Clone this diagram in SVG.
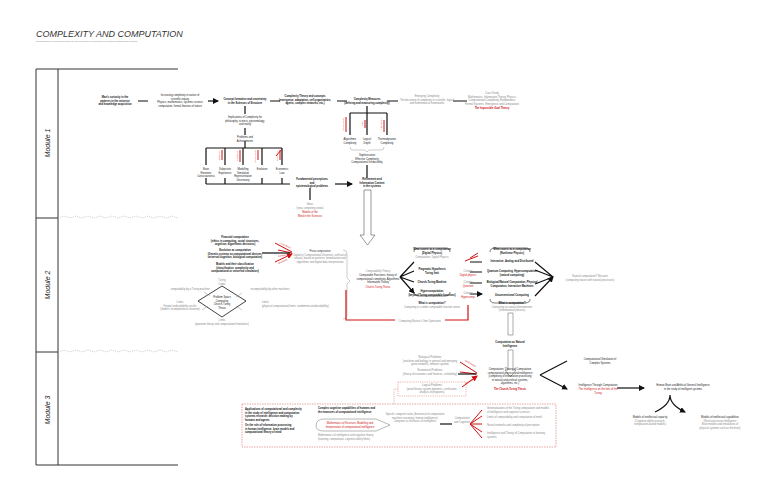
<svg xmlns="http://www.w3.org/2000/svg" width="768" height="485" viewBox="0 0 768 485">
<defs>
<style>
text{font-family:"Liberation Sans",Arial,sans-serif;text-anchor:middle}
.t{font-size:2.6px;fill:#222}
.g{font-size:2.6px;fill:#888}
.r{font-size:2.6px;fill:#d01010}
.b{font-size:2.6px;fill:#111;font-weight:bold}
.ln{stroke:#111;stroke-width:1.2;fill:none}
.rl{stroke:#d01010;stroke-width:1;fill:none}
.gl{stroke:#999;stroke-width:0.5;fill:none}
.kl{stroke:#222;stroke-width:0.6;fill:none}
.mod{font-size:7px;font-style:italic;fill:#222}
</style>
<marker id="ah" markerWidth="6" markerHeight="6" refX="5" refY="3" orient="auto" markerUnits="userSpaceOnUse"><path d="M0,0L6,3L0,6z" fill="#111"/></marker>
<marker id="rh" markerWidth="6" markerHeight="6" refX="5" refY="3" orient="auto" markerUnits="userSpaceOnUse"><path d="M0,0L6,3L0,6z" fill="#d01010"/></marker>
</defs>
<rect width="768" height="485" fill="#fff"/>
<text x="36" y="37" style="font-size:9px;font-style:italic;fill:#333;text-anchor:start">COMPLEXITY AND COMPUTATION</text>
<text x="36" y="42" class="g" style="font-size:2px;text-anchor:start">http://thesisweb.ex.org/sections/complexity-and-computation-an-introduction-to-research-paradigms-and-programs</text>

<g id="frame">
<path d="M36,69H178M36,465H178M36,69V465M58,69V465M36,218H58M36,352H58" stroke="#333" stroke-width="1" fill="none"/>
<path d="M58,218 l6,-2 6,2 6,-2 6,2 6,-2 6,2 6,-2 6,2 6,-2 6,2 6,-2 6,2 6,-2 6,2 6,-2 6,2 6,-2 6,2 6,-2 6,2" stroke="#aaa" stroke-width="0.6" stroke-dasharray="1,1" fill="none"/>
<path d="M58,352 l6,-2 6,2 6,-2 6,2 6,-2 6,2 6,-2 6,2 6,-2 6,2 6,-2 6,2 6,-2 6,2 6,-2 6,2 6,-2 6,2 6,-2 6,2" stroke="#aaa" stroke-width="0.6" stroke-dasharray="1,1" fill="none"/>
<text class="mod" transform="translate(50,143) rotate(-90)">Module 1</text>
<text class="mod" transform="translate(50,285) rotate(-90)">Module 2</text>
<text class="mod" transform="translate(50,410) rotate(-90)">Module 3</text>
</g>

<g id="connectors">
<path class="ln" d="M138,101H148M270,101H280M337,101H347M387,101H398M453,101H467"/>
<path class="ln" d="M208,101H218" marker-end="url(#ah)"/>
<path class="ln" d="M245,106V114M245,128V135M245,141V148M206,148H282M206,148V165M225,148V165M243,148V165M262,148V165M282,148V165"/>
<path class="ln" d="M206,178V184M225,178V184M262,178V184M282,178V184M206,184H290"/>
<path class="ln" d="M310,188V200"/>
<path class="ln" d="M335,184H352" marker-end="url(#ah)"/>
<path class="ln" d="M367,106V113M350,113H387M350,113V135M367,113V135M387,113V135M367,165V178"/>
<path class="gl" d="M350,147q0,3 3,3h12l2,2l2,-2h12q3,0 3,-3"/>
<path d="M364,190h7v45h4l-7.5,10l-7.5,-10h4z" fill="#fff" stroke="#555" stroke-width="0.6"/>
<g class="rl">
<path d="M222,160v-10M240,162v-12M258,160v-10M280,160v-10M276,156l6,-7"/>
<path d="M346,132v-15M365,128v-8M384,132v-12"/>
</g>
<path class="rl" d="M275,243L292,252M278,250L292,253M275,262L292,254" marker-end="url(#rh)"/>
<path class="ln" d="M262,253L290,253" stroke-width="0.8"/>
<path class="gl" d="M343,250q4,0 4,4v24l3,3l-3,3v31q0,4-4,4"/>
<path class="ln" stroke-width="0.6" d="M400,277L414,262M400,277L414,271M400,277L414,282M400,277L414,293" marker-end="url(#ah)"/>
<path class="kl" d="M414,252q0,-4 5,-4h26q5,0 5,4M414,292q0,4 5,4h26q5,0 5,-4M490,252q0,-4 5,-4h30q5,0 5,4M490,299q0,4 5,4h30q5,0 5,-4"/>
<path class="ln" stroke-width="0.6" d="M470,262H482M470,272H482M470,283H482M470,294H482" marker-end="url(#ah)"/>
<path class="rl" d="M465,261L478,256M470,258l8,-5"/>
<path class="ln" stroke-width="0.6" d="M535,262L553,277M535,270L553,277M535,284L553,277M535,296L553,277" marker-end="url(#ah)"/>
<path d="M346,290V320H468V305" stroke="#d01010" stroke-width="1.2" fill="none"/>
<rect x="395" y="318" width="50" height="5" fill="#fff"/>
<path d="M508,313h5v22h-5z" fill="#fff" stroke="#555" stroke-width="0.5"/>
<path d="M508,350h5v20h3l-5.5,7l-5.5,-7h3z" fill="#fff" stroke="#555" stroke-width="0.5"/>
<path d="M198,301l24,-15l24,15l-24,16z" fill="none" stroke="#111" stroke-width="0.8"/>
<path class="gl" d="M210,296l-6,-4M236,297l6,-4M208,306l-6,4M236,306l6,4"/>
<path class="rl" d="M460,362L477,373M460,372L477,374M462,387L477,376" marker-end="url(#rh)"/>
<path class="ln" d="M458,374H476" stroke-width="0.8"/>
<path class="ln" stroke-width="0.6" d="M540,375L567,361M540,375L567,389" marker-end="url(#ah)"/>
<path class="ln" stroke-width="1.5" d="M617,388H644" marker-end="url(#ah)"/>
<path class="ln" stroke-width="0.6" d="M670,395q0,10 -15,17M670,395q0,10 15,17" marker-end="url(#ah)"/>
<rect x="398" y="382" width="68" height="14" fill="none" stroke="#e08080" stroke-width="0.6" stroke-dasharray="1.2,1"/>
<path d="M398,389h-4v15" stroke="#e08080" stroke-width="0.6" stroke-dasharray="1.2,1" fill="none"/>
<rect x="242" y="404" width="314" height="43" fill="none" stroke="#e08080" stroke-width="0.7" stroke-dasharray="1.5,1"/>
<path d="M316,426q0,-7 8,-7h52l14,6l-14,6h-52q-8,0-8,-5z" fill="none" stroke="#888" stroke-width="0.6"/>
<path class="ln" d="M440,424H452"/>
<path class="rl" d="M470,424L482,410M470,424L482,416M470,424L482,424M470,424L482,432M470,424L482,438"/>
</g>

<g id="m1">
<g id="n-a"><text class="b" x="115" y="98">Man's curiosity in the</text><text class="b" x="115" y="101.5">patterns in the universe</text><text class="b" x="115" y="105">and knowledge acquisition</text></g>
<g id="n-b"><text class="t" x="180" y="96">Increasing complexity in nature of</text><text class="t" x="180" y="99.5">scientific inquiry</text><text class="t" x="180" y="103">Physics, mathematics, systems science</text><text class="t" x="180" y="106.5">computation, formal theories of nature</text></g>
<g id="n-c"><text class="b" x="245" y="100">Concept formation and uncertainty</text><text class="b" x="245" y="103.5">in the Sciences of Structure</text></g>
<g id="n-d"><text class="b" x="305" y="97">Complexity Theory and concepts</text><text class="b" x="305" y="100.5">(emergence, adaptation, self-organization,</text><text class="b" x="305" y="104">agents, complex networks, etc.)</text></g>
<g id="n-e"><text class="b" x="367" y="100">Complexity Measures</text><text class="b" x="367" y="103.5">(defining and measuring complexity)</text></g>
<g id="n-f"><text class="g" x="427" y="97">Emerging Complexity</text><text class="g" x="427" y="100.5">The discovery of complexity in scientific, logical</text><text class="g" x="427" y="104">and mathematical frameworks</text></g>
<g id="n-g"><text class="g" x="492" y="94">Case Study</text><text class="g" x="492" y="97.5">Mathematics, Information Theory, Physics</text><text class="g" x="492" y="101">Computational Complexity, Randomness</text><text class="g" x="492" y="104.5">Formal Systems, Emergence and Computation</text><text class="r" x="492" y="109" style="font-weight:bold">The Impossible Goal Theory</text></g>
<g id="n-impl"><text class="t" x="245" y="118">Implications of Complexity for</text><text class="t" x="245" y="121.5">philosophy, science, epistemology,</text><text class="t" x="245" y="125">and reality</text></g>
<g id="n-prob"><text class="t" x="245" y="138">Problems and</text><text class="t" x="245" y="141.5">Achievements</text></g>
<g id="n-brain"><text class="t" x="206" y="170">Brain</text><text class="t" x="206" y="173.5">Emotions</text><text class="t" x="206" y="177">Consciousness</text></g>
<g id="n-subj"><text class="t" x="225" y="170">Subjective</text><text class="t" x="225" y="173.5">Experience</text></g>
<g id="n-model"><text class="t" x="243" y="170">Modelling</text><text class="t" x="243" y="173.5">Simulation</text><text class="t" x="243" y="177">Representation</text><text class="t" x="243" y="180.5">Uncertainty</text></g>
<g id="n-evol"><text class="t" x="262" y="170">Evolution</text></g>
<g id="n-econ"><text class="t" x="282" y="170">Economics</text><text class="t" x="282" y="173.5">Law</text></g>
<g id="n-fund"><text class="b" x="312" y="180">Fundamental perceptions</text><text class="b" x="312" y="183.5">and</text><text class="b" x="312" y="187">epistemological problems</text></g>
<g id="n-ideas"><text class="g" x="310" y="205">Ideas</text><text class="g" x="310" y="208.5">(new, competing views)</text><text class="r" x="310" y="213">Models of the</text><text class="r" x="310" y="216.5">Mind in the Sciences</text></g>
<g id="n-ref"><text class="b" x="372" y="180">Refinement and</text><text class="b" x="372" y="183.5">Information Content</text><text class="b" x="372" y="187">in the systems</text></g>
<g id="n-algo"><text class="t" x="350" y="140">Algorithmic</text><text class="t" x="350" y="143.5">Complexity</text></g>
<g id="n-depth"><text class="t" x="367" y="140">Logical</text><text class="t" x="367" y="143.5">Depth</text></g>
<g id="n-thermo"><text class="t" x="387" y="140">Thermodynamic</text><text class="t" x="387" y="143.5">Complexity</text></g>
<g id="n-soph"><text class="t" x="367" y="156">Sophistication</text><text class="t" x="367" y="159.5">Effective Complexity</text><text class="t" x="367" y="163">Computational Irreducibility</text></g>
<g class="r" style="font-size:2.2px">
<text transform="translate(220,156) rotate(-90)">Modelling</text><text transform="translate(238,156) rotate(-90)">Simulation</text><text transform="translate(256,156) rotate(-90)">Computation</text><text transform="translate(278,156) rotate(-90)">Prediction</text>
<text transform="translate(344,124) rotate(-90)">Computation</text><text transform="translate(363,124) rotate(-90)">Time</text><text transform="translate(382,124) rotate(-90)">Information</text>
</g>
</g>

<g id="m2">
<g id="n-p1"><text class="b" x="235" y="238">Financial computation</text><text class="b" x="235" y="241.5">(ethics in computing, social structures,</text><text class="b" x="235" y="245">cognition, algorithmic decisions)</text></g>
<g id="n-p2"><text class="b" x="235" y="251">Evolution as computation</text><text class="b" x="235" y="254.5">(Genetic systems as computational devices,</text><text class="b" x="235" y="258">universal cognition, biological computation)</text></g>
<g id="n-p3"><text class="b" x="235" y="265">Models and their classification</text><text class="b" x="235" y="268.5">(classification, complexity and</text><text class="b" x="235" y="272">computational or universal simulation)</text></g>
<g class="r" style="font-size:2.2px"><text transform="translate(285,246) rotate(25)">Computation</text><text transform="translate(284,256) rotate(-10)">Computation</text><text transform="translate(283,262) rotate(-25)">Modelling</text></g>
<g id="n-proto"><text class="g" x="320" y="252" style="fill:#333">Proto-computation</text><text class="g" x="320" y="255.5">Digital or Computational Universes, artificial or</text><text class="g" x="320" y="259">natural, based on patterns, formalization and</text><text class="g" x="320" y="262.5">algorithmic and digital data interpretation</text></g>
<g id="n-diam"><text class="t" x="222" y="298">Problem Space</text><text class="t" x="222" y="301.5">Computing</text><text class="t" x="222" y="305">Church-Turing</text><text class="t" x="222" y="308.5">Thesis</text></g>
<text class="g" x="222" y="281">Turing</text><text class="g" x="222" y="285">Limits</text><text class="g" x="190" y="290">computability by a Turing machine</text><text class="g" x="270" y="290">incomputability by other machines</text>
<text class="g" x="180" y="303">Limits</text><text class="g" x="180" y="306.5">Formal undecidability results</text><text class="g" x="180" y="310">(Gödel's incompleteness theorem)</text>
<text class="g" x="262" y="303" style="text-anchor:start">Limits</text><text class="g" x="262" y="306.5" style="text-anchor:start">(physical computational limits, randomness/undecidability)</text>
<text class="g" x="222" y="321">Limits</text><text class="g" x="222" y="324.5">(quantum theory and computational limitations)</text>
<g id="n-ct"><text class="g" x="378" y="272">Computability Theory</text><text class="t" x="378" y="276">Computable Functions, theory of</text><text class="t" x="378" y="279.5">computational complexity, Algorithmic</text><text class="t" x="378" y="283">Information Theory</text><text class="r" x="378" y="288">Church-Turing Thesis</text></g>
<g id="n-w1"><text class="b" x="432" y="250">What counts as a computation</text><text class="b" x="432" y="253.5">(Digital Physics)</text><text class="g" x="432" y="258">Computation, Digital Physics</text></g>
<g id="n-w2"><text class="b" x="432" y="270">Pragmatic Hypothesis</text><text class="b" x="432" y="273.5">Turing limit</text></g>
<g id="n-w3"><text class="b" x="432" y="283">Church-Turing Machine</text></g>
<g id="n-w4"><text class="b" x="432" y="292">Hypercomputation</text><text class="b" x="432" y="295.5">(beyond Turing computable functions)</text></g>
<g id="n-w5"><text class="b" x="432" y="304">What is computation?</text><text class="g" x="432" y="307.5">Computing in a wider computable function sense</text></g>
<text class="g" x="468" y="272">Critique</text><text class="r" x="468" y="275.5">Digital physics</text>
<text class="g" x="468" y="283">Critique</text><text class="r" x="468" y="286.5">Quantum</text>
<text class="g" x="468" y="294">Critique</text><text class="r" x="468" y="297.5">Hypercomp</text>
<g id="n-x1"><text class="b" x="512" y="250">What counts as a computation</text><text class="b" x="512" y="253.5">(Nonlinear Physics)</text></g>
<g id="n-x2"><text class="b" x="512" y="262">Interactive, Analog and Distributed</text></g>
<g id="n-x3"><text class="b" x="512" y="272">Quantum Computing, Hypercomputation</text><text class="b" x="512" y="275.5">(natural computing)</text></g>
<g id="n-x4"><text class="b" x="512" y="283">Biological/Natural Computation, Physical</text><text class="b" x="512" y="286.5">Computation, Interactive Machines</text></g>
<g id="n-x5"><text class="b" x="512" y="296">Unconventional Computing</text></g>
<g id="n-x6"><text class="b" x="512" y="304">What is computation?</text><text class="g" x="512" y="307.5">Computing as natural phenomenon</text><text class="g" x="512" y="311">(informational process)</text></g>
<g id="n-nat"><text class="g" x="590" y="277">Natural computation? Not pure</text><text class="g" x="590" y="280.5">(computing nature with natural processes)</text></g>
<text class="g" x="420" y="321.5">Computing Nature's Own Operations</text>
<g id="n-canb"><text class="b" x="510" y="343">Computation as Natural</text><text class="b" x="510" y="346.5">Intelligence</text></g>
</g>

<g id="m3">
<g id="n-bio"><text class="g" x="430" y="358">Biological Problems</text><text class="g" x="430" y="361.5">(evolution and biology, in general and emerging</text><text class="g" x="430" y="365">gene networks, immune system)</text></g>
<g id="n-eco"><text class="g" x="430" y="371">Economical Problems</text><text class="g" x="430" y="374.5">(theory of economics and finances, scheduling)</text></g>
<g id="n-log"><text class="g" x="432" y="386">Logical Problems</text><text class="g" x="432" y="389.5">(proof theory, system dynamics, verification,</text><text class="g" x="432" y="393">analysis of programs)</text></g>
<g class="r" style="font-size:2.2px"><text transform="translate(470,364) rotate(30)">Computation</text><text transform="translate(470,382) rotate(-30)">Simulation</text></g>
<g id="n-ctc"><text class="t" x="510" y="370">Computation: Theory of Computation</text><text class="t" x="510" y="373.5">computational practice and intelligence</text><text class="t" x="510" y="377">(complexity of information processing</text><text class="t" x="510" y="380.5">in natural and artificial systems,</text><text class="t" x="510" y="384">algorithms, etc.)</text><text class="r" x="510" y="390" style="font-weight:bold">The Church-Turing Thesis</text></g>
<g id="n-sim"><text class="t" x="600" y="360">Computational Simulation of</text><text class="t" x="600" y="363.5">Complex Systems</text></g>
<g id="n-int"><text class="t" x="598" y="386">Intelligence Through Computation</text><text class="r" x="598" y="390">The Intelligence on the limit of the</text><text class="r" x="598" y="393.5">Turing</text></g>
<g id="n-hb"><text class="t" x="683" y="386">Human Brain and Artificial General Intelligence</text><text class="t" x="683" y="389.5">in the study of intelligent systems</text></g>
<g id="n-m1"><text class="t" x="650" y="418">Models of intellectual capacity</text><text class="g" x="650" y="421.5">(Cognitive ability research,</text><text class="g" x="650" y="425">computation-based models)</text></g>
<g id="n-m2"><text class="t" x="720" y="418">Models of intellectual capabilities</text><text class="g" x="720" y="421.5">(Structural neuro-intelligence</text><text class="g" x="720" y="425">Brain models and emulations of</text><text class="g" x="720" y="428.5">physical systems such as the brain)</text></g>
<g id="n-box-l"><text class="b" x="245" y="410" style="text-anchor:start">Applications of computational and complexity</text><text class="b" x="245" y="413.5" style="text-anchor:start">in the study of intelligence and computation</text><text class="b" x="245" y="417" style="text-anchor:start">systems research: decision making by</text><text class="b" x="245" y="420.5" style="text-anchor:start">humans and agents</text><text class="b" x="245" y="426" style="text-anchor:start">On the role of information processing</text><text class="b" x="245" y="429.5" style="text-anchor:start">in human intelligence, brain models and</text><text class="b" x="245" y="433" style="text-anchor:start">computational theory of mind</text></g>
<g id="n-box-m"><text class="b" x="318" y="409" style="text-anchor:start">Complex cognitive capabilities of humans and</text><text class="b" x="318" y="412.5" style="text-anchor:start">the measures of computational intelligence</text><text class="r" x="350" y="424">Mathematics of Structure, Modelling and</text><text class="r" x="350" y="427.5">Interpretation of computational intelligence</text><text class="g" x="318" y="436" style="text-anchor:start">Mathematics of intelligence and cognitive theory</text><text class="g" x="318" y="439.5" style="text-anchor:start">(learning, computation, cognitive ability limits)</text></g>
<g id="n-box-r"><text class="g" x="415" y="415">Specific computer tasks (theoretical of computation</text><text class="g" x="415" y="418.5">machine reasoning, human intelligence)</text><text class="g" x="415" y="422">Computer as the basis of intelligence</text></g>
<text class="g" x="462" y="419">Computation</text><text class="g" x="462" y="422.5">and Cognition</text>
<g id="n-box-o"><text class="g" x="487" y="409" style="text-anchor:start">Generalisations of the Turing computation and models</text><text class="g" x="487" y="412.5" style="text-anchor:start">of intelligence and cognitive sciences</text><text class="g" x="487" y="418" style="text-anchor:start">Limits of computability and computation of mind</text><text class="g" x="487" y="426" style="text-anchor:start">Neural networks and complexity of perception</text><text class="g" x="487" y="434" style="text-anchor:start">Intelligence and Theory of Computation in learning</text><text class="g" x="487" y="437.5" style="text-anchor:start">systems</text></g>
</g>
</svg>
